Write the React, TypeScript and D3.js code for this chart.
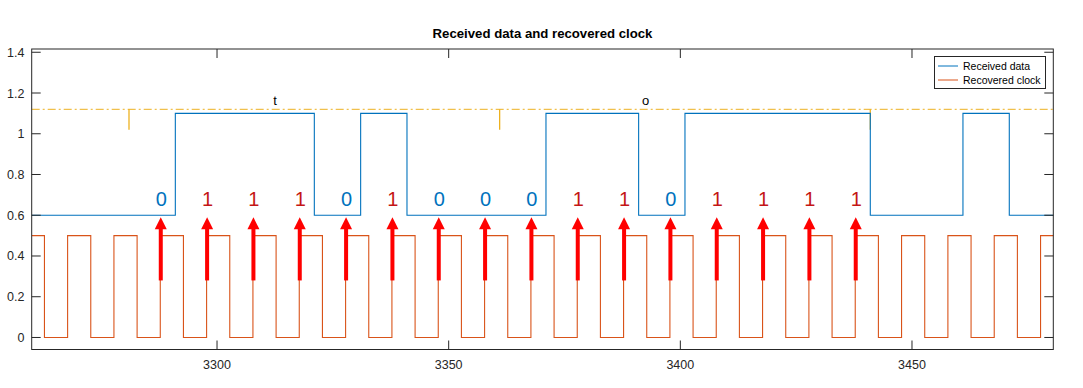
import React from "react";
import * as d3 from "d3";

// received data (step after): transition times and levels
const dataT = [3260, 3291, 3321, 3331, 3341, 3371, 3391, 3401, 3441, 3461, 3471, 3481];
const dataV = [0.6, 1.1, 0.6, 1.1, 0.6, 1.1, 0.6, 1.1, 0.6, 1.1, 0.6, 0.6];

// recovered clock (step after)
const clockT = [
    3260, 3262.75, 3267.75, 3272.75, 3277.75, 3282.75, 3287.75, 3292.75, 3297.75, 3302.75,
    3307.75, 3312.75, 3317.75, 3322.75, 3327.75, 3332.75, 3337.75, 3342.75, 3347.75, 3352.75,
    3357.75, 3362.75, 3367.75, 3372.75, 3377.75, 3382.75, 3387.75, 3392.75, 3397.75, 3402.75,
    3407.75, 3412.75, 3417.75, 3422.75, 3427.75, 3432.75, 3437.75, 3442.75, 3447.75, 3452.75,
    3457.75, 3462.75, 3467.75, 3472.75, 3477.75, 3481
];
const clockV = [
    0.5, 0, 0.5, 0, 0.5, 0, 0.5, 0, 0.5, 0,
    0.5, 0, 0.5, 0, 0.5, 0, 0.5, 0, 0.5, 0,
    0.5, 0, 0.5, 0, 0.5, 0, 0.5, 0, 0.5, 0,
    0.5, 0, 0.5, 0, 0.5, 0, 0.5, 0, 0.5, 0,
    0.5, 0, 0.5, 0, 0.5, 0.5
];

// sampled bits at clock rising edges
const sampleT = [3287.75, 3297.75, 3307.75, 3317.75, 3327.75, 3337.75, 3347.75, 3357.75,
    3367.75, 3377.75, 3387.75, 3397.75, 3407.75, 3417.75, 3427.75, 3437.75];
const bits = [0, 1, 1, 1, 0, 1, 0, 0, 0, 1, 1, 0, 1, 1, 1, 1];
const arrowFrom = 0.28;
const arrowTo = 0.59;
const bitLabelY = 0.645;

// decoded characters and byte boundaries
const chars = ["t", "o"];
const charT = [3312.5, 3392.5];
const charY = 1.14;
const byteT = [3281, 3361, 3441];
const byteLow = 1.02;
const threshold = 1.12;

const xTicks = [3300, 3350, 3400, 3450];
const yTicks = [0, 0.2, 0.4, 0.6, 0.8, 1, 1.2, 1.4];
const legendLabels = ["Received data", "Recovered clock"];

const W = 1083, H = 388;
const left = 31.7, right = 1053.3, top = 49, bottom = 349.5;
const font = "'Liberation Sans', Arial, sans-serif";
const axisColor = "#262626";
const blue = "#0072BD";
const orange = "#D95319";
const yellow = "#EDB120";
const darkRed = "#C41616";

export default function App() {
    const x = d3.scaleLinear().domain([3260, 3480.5]).range([left, right]);
    const y = d3.scaleLinear().domain([-0.059, 1.416]).range([bottom, top]);

    const dataPath = d3.line<number>()
        .x((d, i) => x(dataT[i]))
        .y(d => y(d))
        .curve(d3.curveStepAfter)(dataV);
    const clockPath = d3.line<number>()
        .x((d, i) => x(clockT[i]))
        .y(d => y(d))
        .curve(d3.curveStepAfter)(clockV);

    const tick = 9;
    const headW = 12, headH = 12, shaftW = 4;

    return (
        <svg width={W} height={H} style={{position: "absolute", left: 0, top: 0, background: "#fff"}}
             fontFamily={font}>
            <defs>
                <clipPath id="plot">
                    <rect x={left} y={top} width={right - left} height={bottom - top}/>
                </clipPath>
            </defs>
            <rect x={0} y={0} width={W} height={H} fill="#fff"/>

            <text x={(left + right) / 2} y={38} textAnchor="middle" fontWeight="bold" fontSize={13.2}
                  fill="#000">Received data and recovered clock</text>

            <g clipPath="url(#plot)">
                {/* threshold dash-dot line */}
                <line x1={left} x2={right} y1={y(threshold)} y2={y(threshold)} stroke={yellow}
                      strokeWidth={1} strokeDasharray="8,3,2,3"/>
                {byteT.map((t, i) => (
                    <line key={"b" + i} x1={x(t)} x2={x(t)} y1={y(threshold)} y2={y(byteLow)}
                          stroke={yellow} strokeWidth={1.3}/>
                ))}
                <path d={clockPath || ""} fill="none" stroke={orange} strokeWidth={1.1}/>
                <path d={dataPath || ""} fill="none" stroke={blue} strokeWidth={1.1}/>

                {sampleT.map((t, i) => {
                    const cx = x(t) + 0.5;
                    const tip = y(arrowTo);
                    const base = y(arrowFrom);
                    return (
                        <g key={"a" + i}>
                            <rect x={cx - shaftW / 2} y={tip + headH - 1} width={shaftW}
                                  height={base - tip - headH + 1} fill="#ff0000"/>
                            <path d={`M${cx},${tip}L${cx + headW / 2},${tip + headH}L${cx - headW / 2},${tip + headH}Z`}
                                  fill="#ff0000"/>
                            <text x={cx + 0.5} y={y(bitLabelY)} textAnchor="middle" fontSize={20}
                                  fill={bits[i] ? darkRed : blue}>{bits[i]}</text>
                        </g>
                    );
                })}

                {chars.map((c, i) => (
                    <text key={"c" + i} x={x(charT[i])} y={y(charY)} textAnchor="middle" fontSize={13}
                          fill="#000">{c}</text>
                ))}
            </g>

            {/* axes box */}
            <rect x={left} y={top} width={right - left} height={bottom - top} fill="none"
                  stroke={axisColor} strokeWidth={1}/>
            {xTicks.map(t => (
                <g key={"x" + t}>
                    <line x1={x(t)} x2={x(t)} y1={bottom} y2={bottom - tick} stroke={axisColor}/>
                    <line x1={x(t)} x2={x(t)} y1={top} y2={top + tick} stroke={axisColor}/>
                    <text x={x(t)} y={369} textAnchor="middle" fontSize={12.5} fill={axisColor}>{t}</text>
                </g>
            ))}
            {yTicks.map(t => (
                <g key={"y" + t}>
                    <line x1={left} x2={left + tick} y1={y(t)} y2={y(t)} stroke={axisColor}/>
                    <line x1={right} x2={right - tick} y1={y(t)} y2={y(t)} stroke={axisColor}/>
                    <text x={24.5} y={y(t) + 4.5} textAnchor="end" fontSize={12.5} fill={axisColor}>{t}</text>
                </g>
            ))}

            {/* legend */}
            <g>
                <rect x={934.5} y={56.5} width={111} height={32} fill="#fff" stroke={axisColor} strokeWidth={1}/>
                {legendLabels.map((l, i) => (
                    <g key={l}>
                        <line x1={938} x2={958} y1={66 + i * 14} y2={66 + i * 14} stroke={i ? orange : blue}
                              strokeWidth={1}/>
                        <text x={963} y={66 + i * 14 + 3.8} fontSize={10.5} fill="#000">{l}</text>
                    </g>
                ))}
            </g>
        </svg>
    );
}
